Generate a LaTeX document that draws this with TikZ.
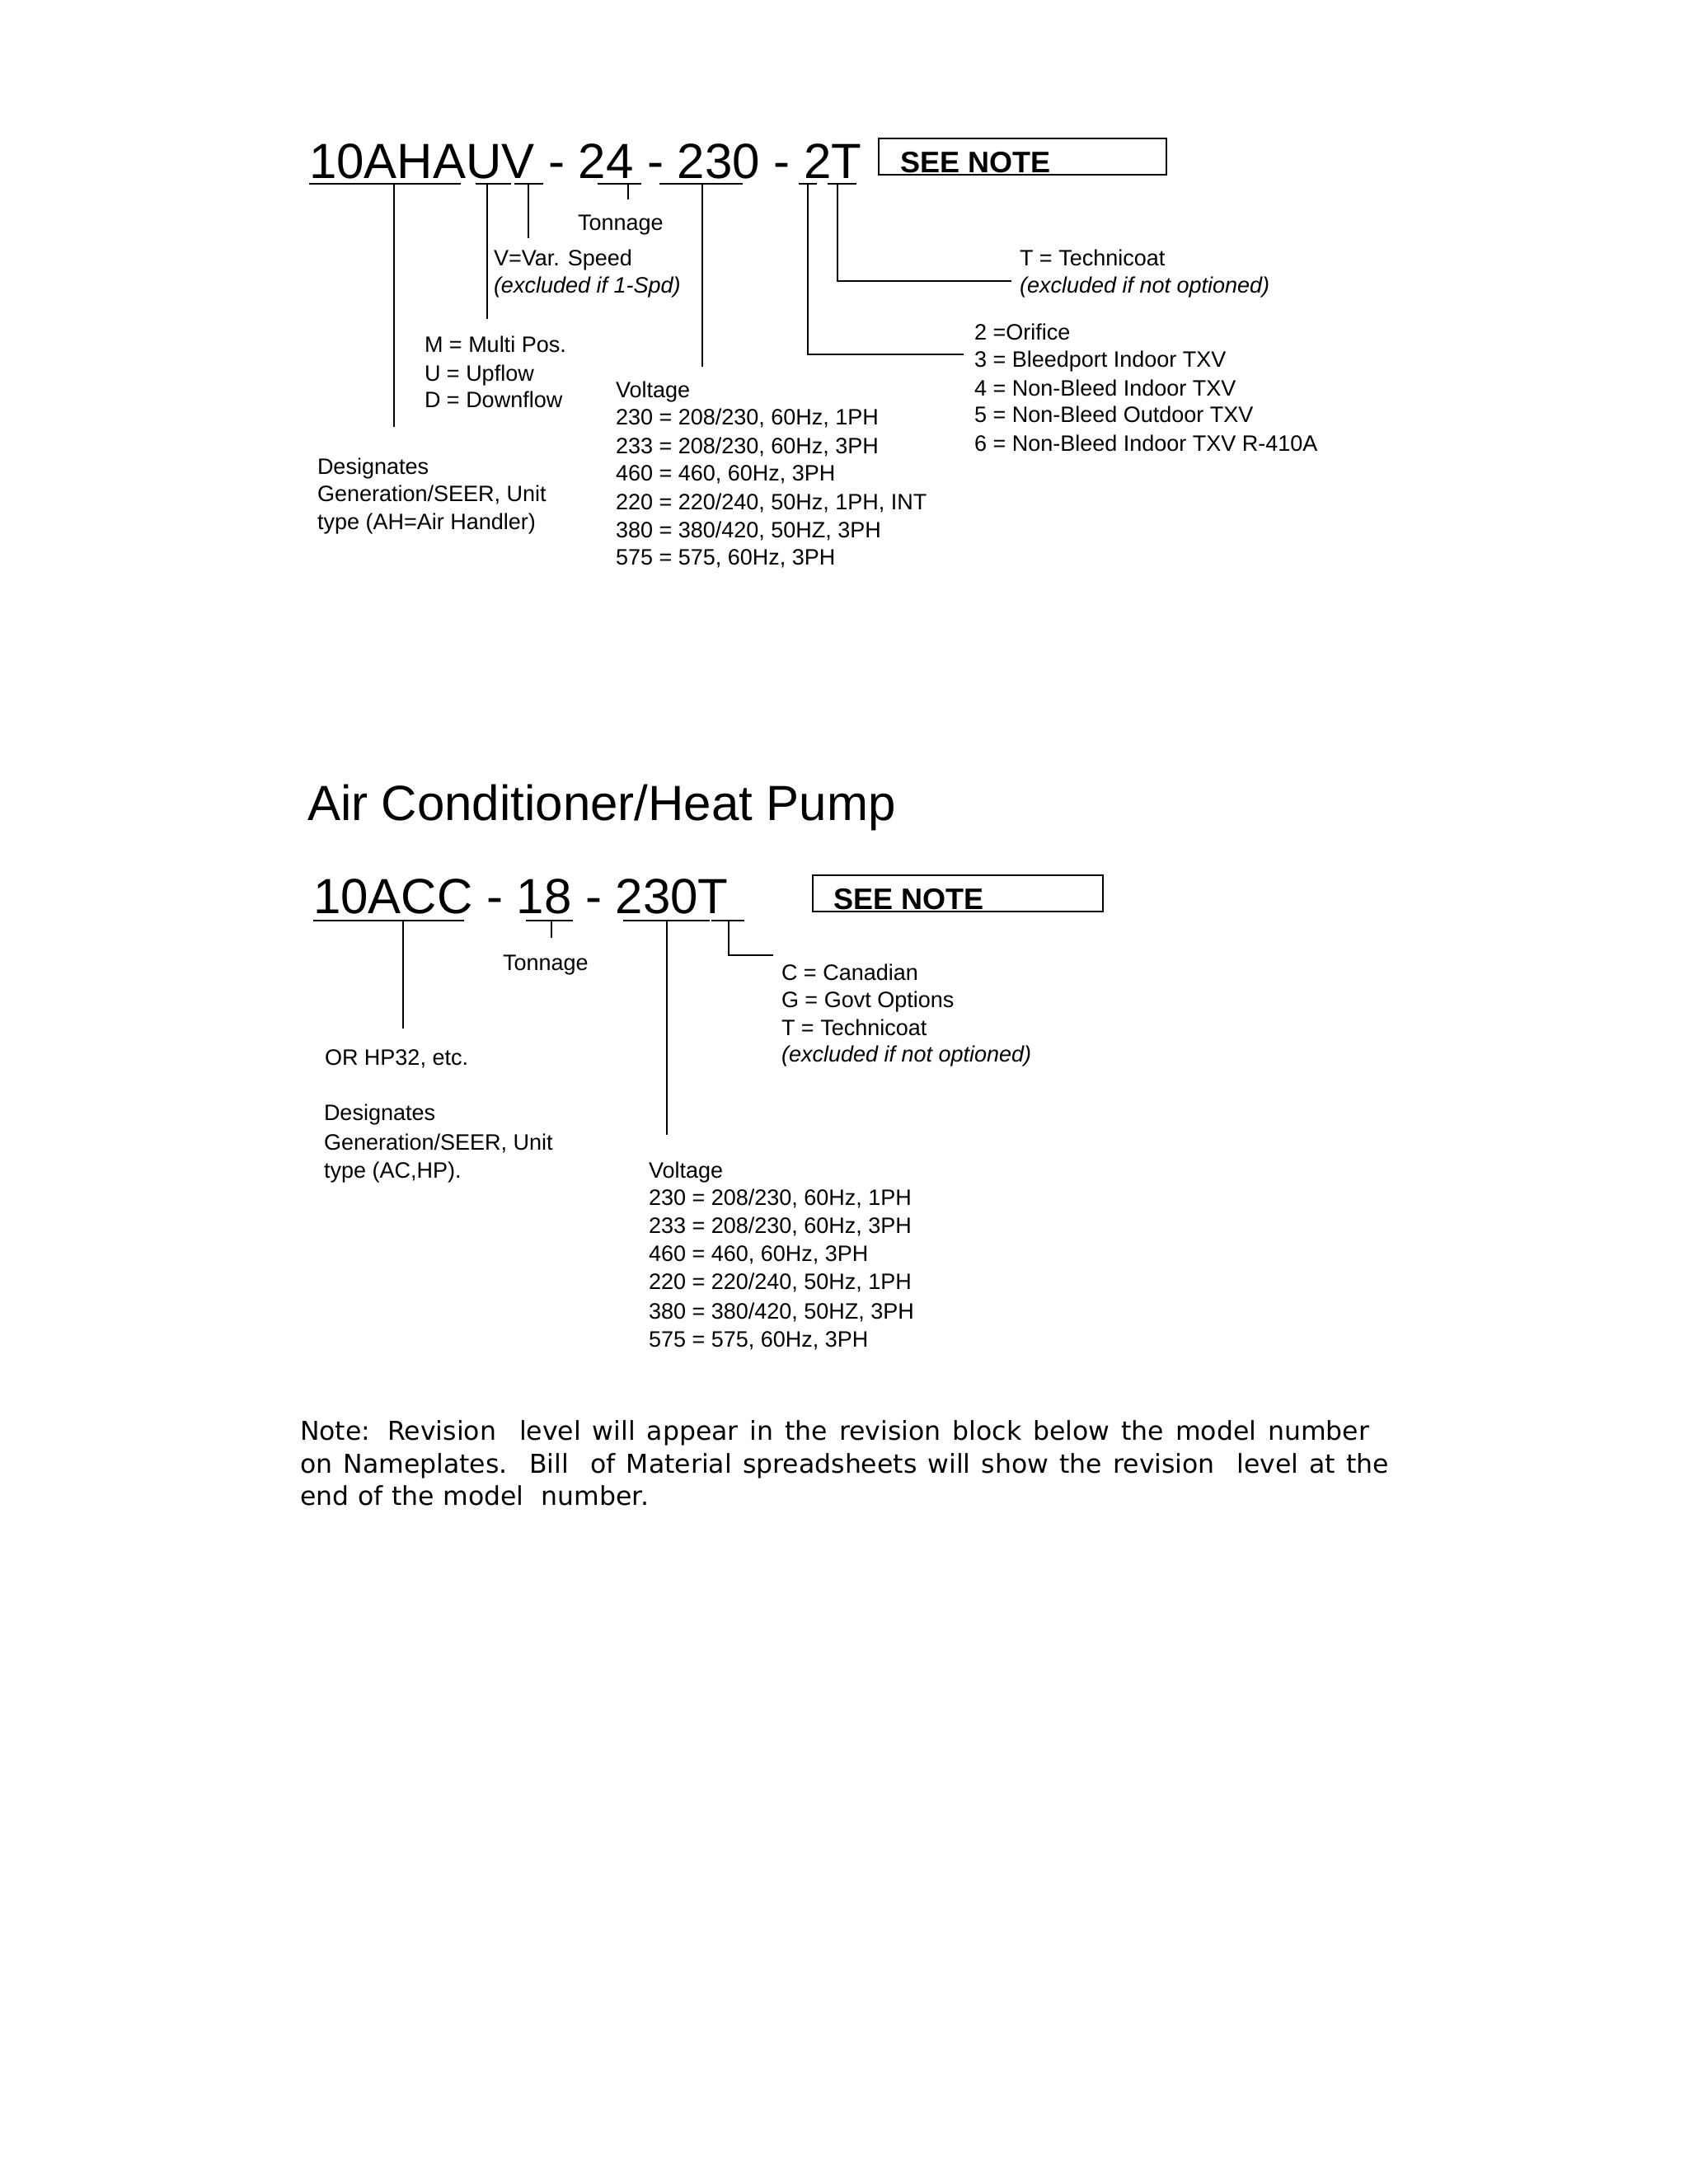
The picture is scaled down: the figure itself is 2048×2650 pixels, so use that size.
\documentclass[tikz,border=0pt]{standalone}
\usepackage{fontspec}
\setmainfont{Liberation Sans}
\newfontfamily\notefont{DejaVu Sans}
\begin{document}
\begin{tikzpicture}[x=1pt,y=-1pt,
  lbl/.style={anchor=base west,inner sep=0pt,outer sep=0pt,font=\fontsize{27}{32}\selectfont},
  ital/.style={anchor=base west,inner sep=0pt,outer sep=0pt,font=\fontsize{27}{32}\selectfont\itshape},
  big/.style={anchor=base west,inner sep=0pt,outer sep=0pt,font=\fontsize{60}{70}\selectfont},
  seen/.style={anchor=base west,inner sep=0pt,outer sep=0pt,font=\fontsize{36}{40}\selectfont\bfseries},
  notetxt/.style={anchor=base west,inner sep=0pt,outer sep=0pt,font=\notefont\fontsize{31.5}{40}\selectfont},
  ln/.style={line width=1.7pt,black},
  notebox/.style={draw,line width=1.7pt,inner sep=0pt,anchor=north west},
  ]
\fill[white] (0,0) rectangle (2048,2650);
\useasboundingbox (0,0) rectangle (2048,2650);

% ================= TOP: air handler =================
\node[big] (t1) at (375,216) {10AHAUV - 24 - 230 - 2T};
\node[notebox,minimum width=349pt,minimum height=44pt] (box1) at (1065,167) {};
\node[seen] (sn1) at (1092,209) {SEE NOTE};

% underlines
\draw[ln] (375,223) -- (559,223);
\draw[ln] (577,223) -- (620,223);
\draw[ln] (624,223) -- (659,223);
\draw[ln] (725,223) -- (778,223);
\draw[ln] (800,223) -- (901,223);
\draw[ln] (969,223) -- (991,223);
\draw[ln] (1004,223) -- (1039,223);

% labels
\node[lbl] (ton1) at (701,279) {Tonnage};
\node[lbl] (vs) at (599,322) {V=Var. Speed};
\node[ital] (vsx) at (599,355) {(excluded if 1-Spd)};
\node[lbl] (tc1) at (1237,322) {T = Technicoat};
\node[ital] (tcx1) at (1237,355) {(excluded if not optioned)};
\node[lbl] (m1) at (515,427) {M = Multi Pos.};
\node[lbl] (u1) at (515,462) {U = Upflow};
\node[lbl] (d1) at (515,494) {D = Downflow};
\node[lbl] (o2) at (1182,412) {2 =Orifice};
\node[lbl] (o3) at (1182,445) {3 = Bleedport Indoor TXV};
\node[lbl] (o4) at (1182,480) {4 = Non-Bleed Indoor TXV};
\node[lbl] (o5) at (1182,512) {5 = Non-Bleed Outdoor TXV};
\node[lbl] (o6) at (1182,547) {6 = Non-Bleed Indoor TXV R-410A};
\node[lbl] (vo1) at (747,482) {Voltage};
\node[lbl] (va1) at (747,515) {230 = 208/230, 60Hz, 1PH};
\node[lbl] (vb1) at (747,550) {233 = 208/230, 60Hz, 3PH};
\node[lbl] (vc1) at (747,583) {460 = 460, 60Hz, 3PH};
\node[lbl] (vd1) at (747,618) {220 = 220/240, 50Hz, 1PH, INT};
\node[lbl] (ve1) at (747,652) {380 = 380/420, 50HZ, 3PH};
\node[lbl] (vf1) at (747,685) {575 = 575, 60Hz, 3PH};
\node[lbl] (ds1) at (385,575) {Designates};
\node[lbl] (gs1) at (385,608) {Generation/SEER, Unit};
\node[lbl] (ty1) at (385,642) {type (AH=Air Handler)};

% connector ends
\coordinate (a1s) at (478,223);  \coordinate (a1e) at (478,518);
\coordinate (u1s) at (591,223);  \coordinate (u1e) at (591,387);
\coordinate (v1s) at (641,223);  \coordinate (v1e) at (641,289);
\coordinate (n1s) at (762,223);  \coordinate (n1e) at (762,242);
\coordinate (w1s) at (852,223);  \coordinate (w1e) at (852,445);
\coordinate (r1s) at (980,223);  \coordinate (r1e) at (1169,430);
\coordinate (c1s) at (1016,223); \coordinate (c1e) at (1227,341);
\draw[ln] (a1s) -- (a1e);
\draw[ln] (u1s) -- (u1e);
\draw[ln] (v1s) -- (v1e);
\draw[ln] (n1s) -- (n1e);
\draw[ln] (w1s) -- (w1e);
\draw[ln] (r1s) |- (r1e);
\draw[ln] (c1s) |- (c1e);

% ================= BOTTOM: AC / HP =================
\node[big] (hd) at (373,995) {Air Conditioner/Heat Pump};
\node[big] (t2) at (380,1108) {10ACC - 18 - 230T};
\node[notebox,minimum width=352pt,minimum height=44pt] (box2) at (985,1061) {};
\node[seen] (sn2) at (1011,1103) {SEE NOTE};

\draw[ln] (380,1117) -- (563,1117);
\draw[ln] (638,1117) -- (695,1117);
\draw[ln] (756,1117) -- (861,1117);
\draw[ln] (863,1117) -- (903,1117);

\node[lbl] (ton2) at (610,1177) {Tonnage};
\node[lbl] (cc) at (948,1189) {C = Canadian};
\node[lbl] (gg) at (948,1222) {G = Govt Options};
\node[lbl] (tc2) at (948,1256) {T = Technicoat};
\node[ital] (tcx2) at (948,1288) {(excluded if not optioned)};
\node[lbl] (orh) at (394,1292) {OR HP32, etc.};
\node[lbl] (ds2) at (393,1359) {Designates};
\node[lbl] (gs2) at (393,1395) {Generation/SEER, Unit};
\node[lbl] (ty2) at (393,1429) {type (AC,HP).};
\node[lbl] (vo2) at (787,1429) {Voltage};
\node[lbl] (va2) at (787,1462) {230 = 208/230, 60Hz, 1PH};
\node[lbl] (vb2) at (787,1496) {233 = 208/230, 60Hz, 3PH};
\node[lbl] (vc2) at (787,1530) {460 = 460, 60Hz, 3PH};
\node[lbl] (vd2) at (787,1564) {220 = 220/240, 50Hz, 1PH};
\node[lbl] (ve2) at (787,1600) {380 = 380/420, 50HZ, 3PH};
\node[lbl] (vf2) at (787,1634) {575 = 575, 60Hz, 3PH};

\coordinate (a2s) at (489,1117); \coordinate (a2e) at (489,1248);
\coordinate (n2s) at (669,1117); \coordinate (n2e) at (669,1138);
\coordinate (w2s) at (809,1117); \coordinate (w2e) at (809,1377);
\coordinate (c2s) at (884,1117); \coordinate (c2e) at (938,1159);
\draw[ln] (a2s) -- (a2e);
\draw[ln] (n2s) -- (n2e);
\draw[ln] (w2s) -- (w2e);
\draw[ln] (c2s) |- (c2e);

% ================= NOTE =================
\node[notetxt] (nt1) at (364,1747) {\makebox[1297pt][s]{Note: Revision\ \ level will appear in the revision block below the model number}};
\node[notetxt] (nt2) at (364,1787) {\makebox[1321pt][s]{on Nameplates.\ \ Bill\ \ of Material spreadsheets will show the revision\ \ level at the}};
\node[notetxt] (nt3) at (364,1826) {\makebox[423pt][s]{end of the model\ \ number.}};
\end{tikzpicture}
\end{document}
